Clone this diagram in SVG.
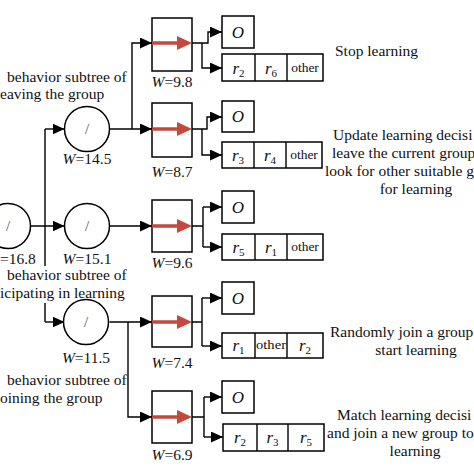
<svg xmlns="http://www.w3.org/2000/svg" width="474" height="474" viewBox="0 0 474 474">
<defs>
<style>
.ln{stroke:#000;stroke-width:1.4;fill:none}
.bx{fill:#fff;stroke:#000;stroke-width:1.5}
.ci{fill:#fff;stroke:#000;stroke-width:1.5}
.t{font-family:"Liberation Serif","Times New Roman",serif;font-size:15.5px;fill:#111}
.i{font-style:italic}
.o{font-family:"Liberation Serif","Times New Roman",serif;font-size:17px;font-style:italic;fill:#111}
.r{font-family:"Liberation Serif","Times New Roman",serif;font-size:17px;fill:#111}
.sub{font-size:11px;font-style:normal}
.oth{font-family:"Liberation Serif","Times New Roman",serif;font-size:13.5px;fill:#111}
.sl{font-family:"Liberation Serif","Times New Roman",serif;font-size:15px;fill:#555}
.red{stroke:#c4483e;stroke-width:3.5}
.rh{fill:#c4483e}
</style>
<marker id="ah" viewBox="0 0 12 11" refX="12" refY="5.5" markerWidth="12" markerHeight="11" markerUnits="userSpaceOnUse" orient="auto">
<path d="M0,0 L12,5.5 L0,11 z" fill="#000"/>
</marker>
</defs>
<rect width="474" height="474" fill="#fff"/>

<g id="connectors">
<path class="ln" d="M30.5,226 H64.5" marker-end="url(#ah)"/>
<path class="ln" d="M45,129 V266 M45,303 V322"/>
<path class="ln" d="M45,129 H64.5" marker-end="url(#ah)"/>
<path class="ln" d="M45,322 H64.5" marker-end="url(#ah)"/>
<path class="ln" d="M109.5,129 H152" marker-end="url(#ah)"/>
<path class="ln" d="M132,129 V43 H152" marker-end="url(#ah)"/>
<path class="ln" d="M109.5,226 H152" marker-end="url(#ah)"/>
<path class="ln" d="M109.5,322 H152" marker-end="url(#ah)"/>
<path class="ln" d="M128,322 V417 H152" marker-end="url(#ah)"/>
<!-- box1 outputs -->
<path class="ln" d="M192,43 H208 V32 H222" marker-end="url(#ah)"/>
<path class="ln" d="M202,43 V68 H222" marker-end="url(#ah)"/>
<!-- box2 outputs -->
<path class="ln" d="M192,129 H207 V117 H222" marker-end="url(#ah)"/>
<path class="ln" d="M202,129 V155 H222" marker-end="url(#ah)"/>
<!-- box3 outputs -->
<path class="ln" d="M192,226 H203 M203,207 V247"/>
<path class="ln" d="M203,207 H222" marker-end="url(#ah)"/>
<path class="ln" d="M203,247 H222" marker-end="url(#ah)"/>
<!-- box4 outputs -->
<path class="ln" d="M192,322 H202 M202,298 V346"/>
<path class="ln" d="M202,298 H222" marker-end="url(#ah)"/>
<path class="ln" d="M202,346 H222" marker-end="url(#ah)"/>
<!-- box5 outputs -->
<path class="ln" d="M192,417 H204 M204,397 V437"/>
<path class="ln" d="M204,397 H222" marker-end="url(#ah)"/>
<path class="ln" d="M204,437 H223" marker-end="url(#ah)"/>
</g>

<g id="root">
<circle class="ci" cx="8" cy="226" r="22.5"/>
<text class="sl" x="8" y="231" text-anchor="middle">/</text>
<text class="t" x="0" y="264">=16.8</text>
</g>

<g id="sub-leave">
<circle class="ci" cx="87" cy="129" r="22.5"/>
<text class="sl" x="87" y="134" text-anchor="middle">/</text>
<text class="t" x="87" y="164" text-anchor="middle"><tspan class="i">W</tspan>=14.5</text>
<text class="t" x="7" y="82">behavior subtree of</text>
<text class="t" x="0" y="99">eaving the group</text>
</g>

<g id="sub-participate">
<circle class="ci" cx="87" cy="226" r="22.5"/>
<text class="sl" x="87" y="231" text-anchor="middle">/</text>
<text class="t" x="87" y="264" text-anchor="middle"><tspan class="i">W</tspan>=15.1</text>
<text class="t" x="7" y="280">behavior subtree of</text>
<text class="t" x="0" y="298">icipating in learning</text>
</g>

<g id="sub-join">
<circle class="ci" cx="86" cy="322" r="22.5"/>
<text class="sl" x="86" y="327" text-anchor="middle">/</text>
<text class="t" x="86" y="363" text-anchor="middle"><tspan class="i">W</tspan>=11.5</text>
<text class="t" x="7" y="385">behavior subtree of</text>
<text class="t" x="0" y="403">oining the group</text>
</g>

<g id="seq1">
<rect class="bx" x="152" y="18" width="40" height="53"/>
<line class="red" x1="152" y1="43" x2="180" y2="43"/>
<polygon class="rh" points="177,36 192,43 177,50"/>
<text class="t" x="172" y="87" text-anchor="middle"><tspan class="i">W</tspan>=9.8</text>
</g>
<g id="res1">
<rect class="bx" x="222" y="16" width="32" height="32"/>
<text class="o" x="238" y="38" text-anchor="middle">O</text>
<rect class="bx" x="222" y="54" width="101" height="27"/>
<path class="ln" d="M255,54 V81 M287,54 V81" stroke-width="1.5"/>
<text class="r" x="238.5" y="74" text-anchor="middle"><tspan class="i">r</tspan><tspan class="sub" dy="3">2</tspan></text>
<text class="r" x="271" y="74" text-anchor="middle"><tspan class="i">r</tspan><tspan class="sub" dy="3">6</tspan></text>
<text class="oth" x="305" y="72" text-anchor="middle">other</text>
<text class="t" x="335" y="56">Stop learning</text>
</g>

<g id="seq2">
<rect class="bx" x="152" y="103" width="40" height="54"/>
<line class="red" x1="152" y1="129" x2="180" y2="129"/>
<polygon class="rh" points="177,122 192,129 177,136"/>
<text class="t" x="172" y="177" text-anchor="middle"><tspan class="i">W</tspan>=8.7</text>
</g>
<g id="res2">
<rect class="bx" x="222" y="101" width="32" height="31"/>
<text class="o" x="238" y="122" text-anchor="middle">O</text>
<rect class="bx" x="222" y="142" width="100" height="26"/>
<path class="ln" d="M254,142 V168 M286,142 V168" stroke-width="1.5"/>
<text class="r" x="238" y="161" text-anchor="middle"><tspan class="i">r</tspan><tspan class="sub" dy="3">3</tspan></text>
<text class="r" x="270" y="161" text-anchor="middle"><tspan class="i">r</tspan><tspan class="sub" dy="3">4</tspan></text>
<text class="oth" x="304" y="159" text-anchor="middle">other</text>
<text class="t" x="333" y="140">Update learning decisi</text>
<text class="t" x="332" y="158">leave the current group</text>
<text class="t" x="325" y="176">look for other suitable g</text>
<text class="t" x="416" y="194" text-anchor="middle">for learning</text>
</g>

<g id="seq3">
<rect class="bx" x="152" y="200" width="40" height="52"/>
<line class="red" x1="152" y1="226" x2="180" y2="226"/>
<polygon class="rh" points="177,219 192,226 177,233"/>
<text class="t" x="172" y="268" text-anchor="middle"><tspan class="i">W</tspan>=9.6</text>
</g>
<g id="res3">
<rect class="bx" x="222" y="191" width="32" height="32"/>
<text class="o" x="238" y="213" text-anchor="middle">O</text>
<rect class="bx" x="222" y="234" width="101" height="26"/>
<path class="ln" d="M255,234 V260 M287,234 V260" stroke-width="1.5"/>
<text class="r" x="238.5" y="253" text-anchor="middle"><tspan class="i">r</tspan><tspan class="sub" dy="3">5</tspan></text>
<text class="r" x="271" y="253" text-anchor="middle"><tspan class="i">r</tspan><tspan class="sub" dy="3">1</tspan></text>
<text class="oth" x="305" y="251" text-anchor="middle">other</text>
</g>

<g id="seq4">
<rect class="bx" x="152" y="296" width="40" height="51"/>
<line class="red" x1="152" y1="322" x2="180" y2="322"/>
<polygon class="rh" points="177,315 192,322 177,329"/>
<text class="t" x="172" y="368" text-anchor="middle"><tspan class="i">W</tspan>=7.4</text>
</g>
<g id="res4">
<rect class="bx" x="222" y="282" width="32" height="32"/>
<text class="o" x="238" y="304" text-anchor="middle">O</text>
<rect class="bx" x="222" y="333" width="101" height="25"/>
<path class="ln" d="M255,333 V358 M287,333 V358" stroke-width="1.5"/>
<text class="r" x="238.5" y="351" text-anchor="middle"><tspan class="i">r</tspan><tspan class="sub" dy="3">1</tspan></text>
<text class="oth" x="271" y="349" text-anchor="middle" textLength="30" lengthAdjust="spacingAndGlyphs">other</text>
<text class="r" x="305" y="351" text-anchor="middle"><tspan class="i">r</tspan><tspan class="sub" dy="3">2</tspan></text>
<text class="t" x="330" y="337">Randomly join a group</text>
<text class="t" x="416" y="355" text-anchor="middle">start learning</text>
</g>

<g id="seq5">
<rect class="bx" x="152" y="391" width="40" height="52"/>
<line class="red" x1="152" y1="417" x2="180" y2="417"/>
<polygon class="rh" points="177,410 192,417 177,424"/>
<text class="t" x="172" y="460" text-anchor="middle"><tspan class="i">W</tspan>=6.9</text>
</g>
<g id="res5">
<rect class="bx" x="222" y="381" width="32" height="32"/>
<text class="o" x="238" y="403" text-anchor="middle">O</text>
<rect class="bx" x="223" y="424" width="101" height="27"/>
<path class="ln" d="M257,424 V451 M288,424 V451" stroke-width="1.5"/>
<text class="r" x="240" y="443" text-anchor="middle"><tspan class="i">r</tspan><tspan class="sub" dy="3">2</tspan></text>
<text class="r" x="272.5" y="443" text-anchor="middle"><tspan class="i">r</tspan><tspan class="sub" dy="3">3</tspan></text>
<text class="r" x="306" y="443" text-anchor="middle"><tspan class="i">r</tspan><tspan class="sub" dy="3">5</tspan></text>
<text class="t" x="337" y="420">Match learning decisi</text>
<text class="t" x="327" y="438">and join a new group to</text>
<text class="t" x="415" y="456" text-anchor="middle">learning</text>
</g>
</svg>
